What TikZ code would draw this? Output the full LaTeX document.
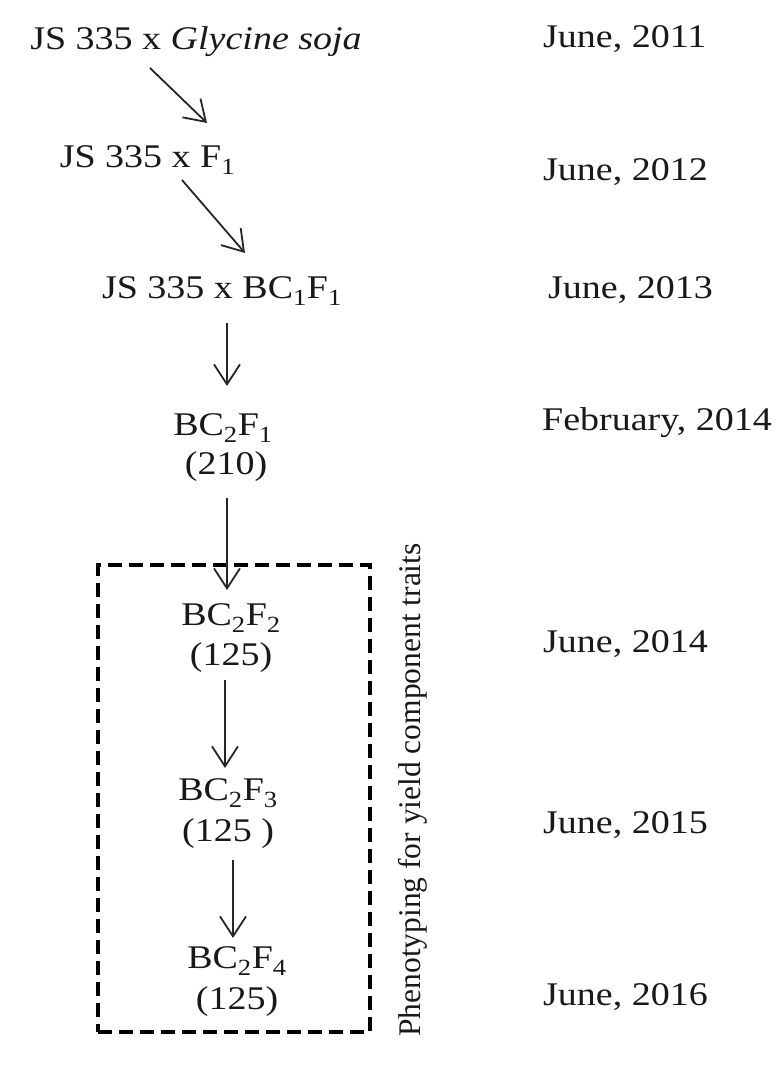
\documentclass[tikz,border=0pt]{standalone}
\usepackage{fontspec}
\setmainfont{Liberation Serif}
\usetikzlibrary{arrows.meta,calc}
\begin{document}
\begin{tikzpicture}[x=1pt,y=-1pt,
  lbl/.style={inner sep=0pt, anchor=base, yscale=0.87, font=\fontsize{38}{40}\selectfont, text=black!90},
  datelbl/.style={inner sep=0pt, anchor=base west, yscale=0.87, font=\fontsize{38}{40}\selectfont, text=black!90},
  arr/.style={-{Straight Barb[length=20pt,width=26pt]}, line width=1.8pt, draw=black!85},
  dashbox/.style={draw=black, line width=4pt, dash pattern=on 14pt off 7pt, inner sep=0pt, minimum width=272pt, minimum height=467pt}]
\path[use as bounding box, fill=white] (0,0) rectangle (777,1070);

% left column
\node[lbl] (t1) at (196,50) {JS 335 x \textit{Glycine soja}};
\node[lbl] (t2) at (147.5,167) {JS 335 x F\textsubscript{1}};
\node[lbl] (t3) at (222,298) {JS 335 x BC\textsubscript{1}F\textsubscript{1}};
\node[lbl] (g1) at (223,435) {BC\textsubscript{2}F\textsubscript{1}};
\node[lbl] (g1n) at (226,474) {(210)};
\node[lbl] (g2) at (231,625) {BC\textsubscript{2}F\textsubscript{2}};
\node[lbl] (g2n) at (231,665) {(125)};
\node[lbl] (g3) at (228,800) {BC\textsubscript{2}F\textsubscript{3}};
\node[lbl] (g3n) at (228,841) {(125 )};
\node[lbl] (g4) at (237,968) {BC\textsubscript{2}F\textsubscript{4}};
\node[lbl] (g4n) at (237,1009) {(125)};

% dashed box and side label
\node[dashbox] (box) at (234,798.5) {};
\node[inner sep=0pt, anchor=base, rotate=90, font=\fontsize{31.5}{33}\selectfont, text=black!90] (phen) at (420,790) {Phenotyping for yield component traits};

% dates
\node[datelbl] (d1) at (543,48) {June, 2011};
\node[datelbl] (d2) at (543,180) {June, 2012};
\node[datelbl] (d3) at (548,298) {June, 2013};
\node[datelbl] (d4) at (542,430) {February, 2014};
\node[datelbl] (d5) at (543,652) {June, 2014};
\node[datelbl] (d6) at (543,833) {June, 2015};
\node[datelbl] (d7) at (543,1005) {June, 2016};

% arrows
\draw[arr] ($(t1.base)+(-46,18)$) -- ($(t2.base)+(59.5,-44)$);
\draw[arr] ($(t2.base)+(34.5,13)$) -- ($(t3.base)+(23,-45)$);
\draw[arr] ($(t3.base)+(5,25)$) -- ($(g1.base)+(4,-49)$);
\draw[arr] ($(g1n.base)+(1,24)$) -- ($(g2.base)+(-4,-35)$);
\draw[arr] ($(g2n.base)+(-6,15)$) -- ($(g3.base)+(-3,-32)$);
\draw[arr] ($(g3n.base)+(5,19)$) -- ($(g4.base)+(-4,-30)$);
\end{tikzpicture}
\end{document}
